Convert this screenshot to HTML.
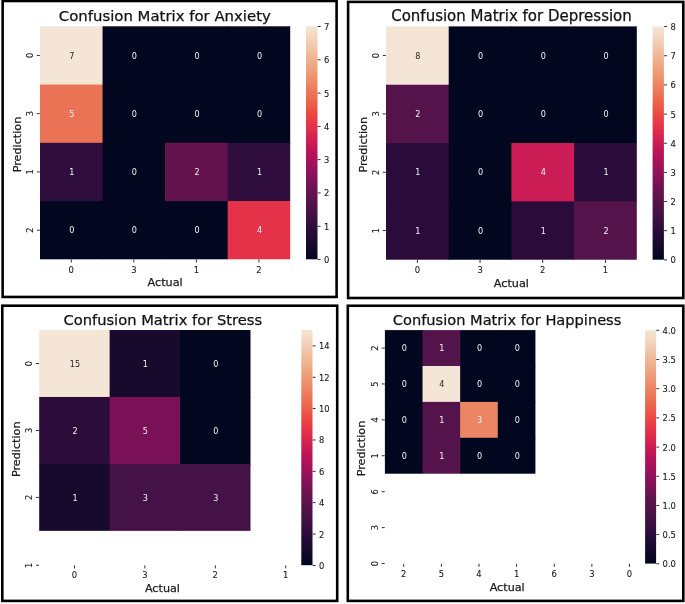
<!DOCTYPE html>
<html><head><meta charset="utf-8"><title>Confusion Matrices</title>
<style>html,body{margin:0;padding:0;background:#fff}svg{display:block;filter:blur(0.4px);font-family:"DejaVu Sans","Liberation Sans",sans-serif}</style>
</head><body>
<svg width="685" height="604" viewBox="0 0 685 604">
<rect x="0" y="0" width="685" height="604" fill="#ffffff"/>
<rect x="2.65" y="1.00" width="333.95" height="295.95" fill="#fff" stroke="#000" stroke-width="2.6"/>
<rect x="40.00" y="26.30" width="63.25" height="58.95" fill="#f5e5d6" />
<rect x="102.55" y="26.30" width="63.25" height="58.95" fill="#02061f" />
<rect x="165.10" y="26.30" width="63.25" height="58.95" fill="#02061f" />
<rect x="227.65" y="26.30" width="62.55" height="58.95" fill="#02061f" />
<rect x="40.00" y="84.55" width="63.25" height="58.95" fill="#ea7355" />
<rect x="102.55" y="84.55" width="63.25" height="58.95" fill="#02061f" />
<rect x="165.10" y="84.55" width="63.25" height="58.95" fill="#02061f" />
<rect x="227.65" y="84.55" width="62.55" height="58.95" fill="#02061f" />
<rect x="40.00" y="142.80" width="63.25" height="58.95" fill="#2f0d3d" />
<rect x="102.55" y="142.80" width="63.25" height="58.95" fill="#02061f" />
<rect x="165.10" y="142.80" width="63.25" height="58.95" fill="#64134f" />
<rect x="227.65" y="142.80" width="62.55" height="58.95" fill="#2f0d3d" />
<rect x="40.00" y="201.05" width="63.25" height="58.25" fill="#02061f" />
<rect x="102.55" y="201.05" width="63.25" height="58.25" fill="#02061f" />
<rect x="165.10" y="201.05" width="63.25" height="58.25" fill="#02061f" />
<rect x="227.65" y="201.05" width="62.55" height="58.25" fill="#e43248" />
<text x="71.88" y="58.68" font-size="8.1" fill="#262626" stroke="#262626" stroke-width="0" text-anchor="middle">7</text>
<text x="134.42" y="58.68" font-size="8.1" fill="#f4f4f4" stroke="#f4f4f4" stroke-width="0" text-anchor="middle">0</text>
<text x="196.97" y="58.68" font-size="8.1" fill="#f4f4f4" stroke="#f4f4f4" stroke-width="0" text-anchor="middle">0</text>
<text x="259.52" y="58.68" font-size="8.1" fill="#f4f4f4" stroke="#f4f4f4" stroke-width="0" text-anchor="middle">0</text>
<text x="71.88" y="116.93" font-size="8.1" fill="#f4f4f4" stroke="#f4f4f4" stroke-width="0" text-anchor="middle">5</text>
<text x="134.42" y="116.93" font-size="8.1" fill="#f4f4f4" stroke="#f4f4f4" stroke-width="0" text-anchor="middle">0</text>
<text x="196.97" y="116.93" font-size="8.1" fill="#f4f4f4" stroke="#f4f4f4" stroke-width="0" text-anchor="middle">0</text>
<text x="259.52" y="116.93" font-size="8.1" fill="#f4f4f4" stroke="#f4f4f4" stroke-width="0" text-anchor="middle">0</text>
<text x="71.88" y="175.18" font-size="8.1" fill="#f4f4f4" stroke="#f4f4f4" stroke-width="0" text-anchor="middle">1</text>
<text x="134.42" y="175.18" font-size="8.1" fill="#f4f4f4" stroke="#f4f4f4" stroke-width="0" text-anchor="middle">0</text>
<text x="196.97" y="175.18" font-size="8.1" fill="#f4f4f4" stroke="#f4f4f4" stroke-width="0" text-anchor="middle">2</text>
<text x="259.52" y="175.18" font-size="8.1" fill="#f4f4f4" stroke="#f4f4f4" stroke-width="0" text-anchor="middle">1</text>
<text x="71.88" y="233.43" font-size="8.1" fill="#f4f4f4" stroke="#f4f4f4" stroke-width="0" text-anchor="middle">0</text>
<text x="134.42" y="233.43" font-size="8.1" fill="#f4f4f4" stroke="#f4f4f4" stroke-width="0" text-anchor="middle">0</text>
<text x="196.97" y="233.43" font-size="8.1" fill="#f4f4f4" stroke="#f4f4f4" stroke-width="0" text-anchor="middle">0</text>
<text x="259.52" y="233.43" font-size="8.1" fill="#f4f4f4" stroke="#f4f4f4" stroke-width="0" text-anchor="middle">4</text>
<text x="164.80" y="21.00" font-size="14.9" fill="#111" stroke="#111" stroke-width="0.25" text-anchor="middle">Confusion Matrix for Anxiety</text>
<rect x="70.83" y="259.50" width="0.90" height="3.00" fill="#1a1a1a" />
<text x="71.28" y="272.57" font-size="8.4" fill="#1a1a1a" stroke="#1a1a1a" stroke-width="0.1" text-anchor="middle">0</text>
<rect x="133.38" y="259.50" width="0.90" height="3.00" fill="#1a1a1a" />
<text x="133.82" y="272.57" font-size="8.4" fill="#1a1a1a" stroke="#1a1a1a" stroke-width="0.1" text-anchor="middle">3</text>
<rect x="195.93" y="259.50" width="0.90" height="3.00" fill="#1a1a1a" />
<text x="196.38" y="272.57" font-size="8.4" fill="#1a1a1a" stroke="#1a1a1a" stroke-width="0.1" text-anchor="middle">1</text>
<rect x="258.47" y="259.50" width="0.90" height="3.00" fill="#1a1a1a" />
<text x="258.92" y="272.57" font-size="8.4" fill="#1a1a1a" stroke="#1a1a1a" stroke-width="0.1" text-anchor="middle">2</text>
<rect x="36.80" y="54.97" width="3.00" height="0.90" fill="#1a1a1a" />
<text x="32.67" y="55.42" font-size="8.4" fill="#1a1a1a" stroke="#1a1a1a" stroke-width="0.1" text-anchor="middle" transform="rotate(-90 32.67 55.42)">0</text>
<rect x="36.80" y="113.22" width="3.00" height="0.90" fill="#1a1a1a" />
<text x="32.67" y="113.67" font-size="8.4" fill="#1a1a1a" stroke="#1a1a1a" stroke-width="0.1" text-anchor="middle" transform="rotate(-90 32.67 113.67)">3</text>
<rect x="36.80" y="171.48" width="3.00" height="0.90" fill="#1a1a1a" />
<text x="32.67" y="171.93" font-size="8.4" fill="#1a1a1a" stroke="#1a1a1a" stroke-width="0.1" text-anchor="middle" transform="rotate(-90 32.67 171.93)">1</text>
<rect x="36.80" y="229.73" width="3.00" height="0.90" fill="#1a1a1a" />
<text x="32.67" y="230.18" font-size="8.4" fill="#1a1a1a" stroke="#1a1a1a" stroke-width="0.1" text-anchor="middle" transform="rotate(-90 32.67 230.18)">2</text>
<text x="165.10" y="286.40" font-size="11.2" fill="#1a1a1a" stroke="#1a1a1a" stroke-width="0.25" text-anchor="middle">Actual</text>
<text x="20.50" y="144.50" font-size="11.2" fill="#1a1a1a" stroke="#1a1a1a" stroke-width="0.25" text-anchor="middle" transform="rotate(-90 20.50 144.50)">Prediction</text>
<linearGradient id="gAnxiety" x1="0" y1="0" x2="0" y2="1"><stop offset="0.0000" stop-color="#f5e5d6"/><stop offset="0.0312" stop-color="#f3dbc8"/><stop offset="0.0625" stop-color="#f2d0b8"/><stop offset="0.0938" stop-color="#f0c4a7"/><stop offset="0.1250" stop-color="#efb897"/><stop offset="0.1562" stop-color="#eeac89"/><stop offset="0.1875" stop-color="#ee9f7b"/><stop offset="0.2188" stop-color="#ed926f"/><stop offset="0.2500" stop-color="#ec8564"/><stop offset="0.2812" stop-color="#eb7758"/><stop offset="0.3125" stop-color="#ec694e"/><stop offset="0.3438" stop-color="#ec5a47"/><stop offset="0.3750" stop-color="#eb4a43"/><stop offset="0.4062" stop-color="#e83c45"/><stop offset="0.4375" stop-color="#e22f4a"/><stop offset="0.4688" stop-color="#d7244f"/><stop offset="0.5000" stop-color="#cb1c55"/><stop offset="0.5312" stop-color="#bd1558"/><stop offset="0.5625" stop-color="#ae125a"/><stop offset="0.5938" stop-color="#9f125b"/><stop offset="0.6250" stop-color="#8f125a"/><stop offset="0.6562" stop-color="#801158"/><stop offset="0.6875" stop-color="#711254"/><stop offset="0.7188" stop-color="#62134f"/><stop offset="0.7500" stop-color="#55134b"/><stop offset="0.7812" stop-color="#4b1248"/><stop offset="0.8125" stop-color="#401144"/><stop offset="0.8438" stop-color="#350f3f"/><stop offset="0.8750" stop-color="#2a0b3a"/><stop offset="0.9062" stop-color="#1f0b33"/><stop offset="0.9375" stop-color="#160a2c"/><stop offset="0.9688" stop-color="#0b0825"/><stop offset="1.0000" stop-color="#02061f"/></linearGradient>
<rect x="306.00" y="26.30" width="11.50" height="233.00" fill="url(#gAnxiety)" />
<rect x="317.70" y="259.05" width="2.90" height="0.90" fill="#1a1a1a" />
<text x="324.00" y="262.97" font-size="8.4" fill="#1a1a1a" stroke="#1a1a1a" stroke-width="0.1" text-anchor="start">0</text>
<rect x="317.70" y="225.76" width="2.90" height="0.90" fill="#1a1a1a" />
<text x="324.00" y="229.68" font-size="8.4" fill="#1a1a1a" stroke="#1a1a1a" stroke-width="0.1" text-anchor="start">1</text>
<rect x="317.70" y="192.48" width="2.90" height="0.90" fill="#1a1a1a" />
<text x="324.00" y="196.39" font-size="8.4" fill="#1a1a1a" stroke="#1a1a1a" stroke-width="0.1" text-anchor="start">2</text>
<rect x="317.70" y="159.19" width="2.90" height="0.90" fill="#1a1a1a" />
<text x="324.00" y="163.11" font-size="8.4" fill="#1a1a1a" stroke="#1a1a1a" stroke-width="0.1" text-anchor="start">3</text>
<rect x="317.70" y="125.91" width="2.90" height="0.90" fill="#1a1a1a" />
<text x="324.00" y="129.82" font-size="8.4" fill="#1a1a1a" stroke="#1a1a1a" stroke-width="0.1" text-anchor="start">4</text>
<rect x="317.70" y="92.62" width="2.90" height="0.90" fill="#1a1a1a" />
<text x="324.00" y="96.54" font-size="8.4" fill="#1a1a1a" stroke="#1a1a1a" stroke-width="0.1" text-anchor="start">5</text>
<rect x="317.70" y="59.34" width="2.90" height="0.90" fill="#1a1a1a" />
<text x="324.00" y="63.25" font-size="8.4" fill="#1a1a1a" stroke="#1a1a1a" stroke-width="0.1" text-anchor="start">6</text>
<rect x="317.70" y="26.05" width="2.90" height="0.90" fill="#1a1a1a" />
<text x="324.00" y="29.97" font-size="8.4" fill="#1a1a1a" stroke="#1a1a1a" stroke-width="0.1" text-anchor="start">7</text>
<rect x="348.10" y="1.90" width="335.20" height="296.10" fill="#fff" stroke="#000" stroke-width="2.6"/>
<rect x="386.00" y="26.40" width="63.40" height="59.03" fill="#f5e5d6" />
<rect x="448.70" y="26.40" width="63.40" height="59.03" fill="#02061f" />
<rect x="511.40" y="26.40" width="63.40" height="59.03" fill="#02061f" />
<rect x="574.10" y="26.40" width="62.70" height="59.03" fill="#02061f" />
<rect x="386.00" y="84.73" width="63.40" height="59.03" fill="#55134b" />
<rect x="448.70" y="84.73" width="63.40" height="59.03" fill="#02061f" />
<rect x="511.40" y="84.73" width="63.40" height="59.03" fill="#02061f" />
<rect x="574.10" y="84.73" width="62.70" height="59.03" fill="#02061f" />
<rect x="386.00" y="143.06" width="63.40" height="59.03" fill="#2a0b3a" />
<rect x="448.70" y="143.06" width="63.40" height="59.03" fill="#02061f" />
<rect x="511.40" y="143.06" width="63.40" height="59.03" fill="#cb1c55" />
<rect x="574.10" y="143.06" width="62.70" height="59.03" fill="#2a0b3a" />
<rect x="386.00" y="201.39" width="63.40" height="58.33" fill="#2a0b3a" />
<rect x="448.70" y="201.39" width="63.40" height="58.33" fill="#02061f" />
<rect x="511.40" y="201.39" width="63.40" height="58.33" fill="#2a0b3a" />
<rect x="574.10" y="201.39" width="62.70" height="58.33" fill="#55134b" />
<text x="417.95" y="58.82" font-size="8.1" fill="#262626" stroke="#262626" stroke-width="0" text-anchor="middle">8</text>
<text x="480.65" y="58.82" font-size="8.1" fill="#f4f4f4" stroke="#f4f4f4" stroke-width="0" text-anchor="middle">0</text>
<text x="543.35" y="58.82" font-size="8.1" fill="#f4f4f4" stroke="#f4f4f4" stroke-width="0" text-anchor="middle">0</text>
<text x="606.05" y="58.82" font-size="8.1" fill="#f4f4f4" stroke="#f4f4f4" stroke-width="0" text-anchor="middle">0</text>
<text x="417.95" y="117.15" font-size="8.1" fill="#f4f4f4" stroke="#f4f4f4" stroke-width="0" text-anchor="middle">2</text>
<text x="480.65" y="117.15" font-size="8.1" fill="#f4f4f4" stroke="#f4f4f4" stroke-width="0" text-anchor="middle">0</text>
<text x="543.35" y="117.15" font-size="8.1" fill="#f4f4f4" stroke="#f4f4f4" stroke-width="0" text-anchor="middle">0</text>
<text x="606.05" y="117.15" font-size="8.1" fill="#f4f4f4" stroke="#f4f4f4" stroke-width="0" text-anchor="middle">0</text>
<text x="417.95" y="175.48" font-size="8.1" fill="#f4f4f4" stroke="#f4f4f4" stroke-width="0" text-anchor="middle">1</text>
<text x="480.65" y="175.48" font-size="8.1" fill="#f4f4f4" stroke="#f4f4f4" stroke-width="0" text-anchor="middle">0</text>
<text x="543.35" y="175.48" font-size="8.1" fill="#f4f4f4" stroke="#f4f4f4" stroke-width="0" text-anchor="middle">4</text>
<text x="606.05" y="175.48" font-size="8.1" fill="#f4f4f4" stroke="#f4f4f4" stroke-width="0" text-anchor="middle">1</text>
<text x="417.95" y="233.81" font-size="8.1" fill="#f4f4f4" stroke="#f4f4f4" stroke-width="0" text-anchor="middle">1</text>
<text x="480.65" y="233.81" font-size="8.1" fill="#f4f4f4" stroke="#f4f4f4" stroke-width="0" text-anchor="middle">0</text>
<text x="543.35" y="233.81" font-size="8.1" fill="#f4f4f4" stroke="#f4f4f4" stroke-width="0" text-anchor="middle">1</text>
<text x="606.05" y="233.81" font-size="8.1" fill="#f4f4f4" stroke="#f4f4f4" stroke-width="0" text-anchor="middle">2</text>
<text x="511.50" y="21.00" font-size="15.0" fill="#111" stroke="#111" stroke-width="0.25" text-anchor="middle">Confusion Matrix for Depression</text>
<rect x="416.90" y="259.90" width="0.90" height="3.00" fill="#1a1a1a" />
<text x="417.35" y="272.97" font-size="8.4" fill="#1a1a1a" stroke="#1a1a1a" stroke-width="0.1" text-anchor="middle">0</text>
<rect x="479.60" y="259.90" width="0.90" height="3.00" fill="#1a1a1a" />
<text x="480.05" y="272.97" font-size="8.4" fill="#1a1a1a" stroke="#1a1a1a" stroke-width="0.1" text-anchor="middle">3</text>
<rect x="542.30" y="259.90" width="0.90" height="3.00" fill="#1a1a1a" />
<text x="542.75" y="272.97" font-size="8.4" fill="#1a1a1a" stroke="#1a1a1a" stroke-width="0.1" text-anchor="middle">2</text>
<rect x="605.00" y="259.90" width="0.90" height="3.00" fill="#1a1a1a" />
<text x="605.45" y="272.97" font-size="8.4" fill="#1a1a1a" stroke="#1a1a1a" stroke-width="0.1" text-anchor="middle">1</text>
<rect x="382.80" y="55.11" width="3.00" height="0.90" fill="#1a1a1a" />
<text x="378.67" y="55.56" font-size="8.4" fill="#1a1a1a" stroke="#1a1a1a" stroke-width="0.1" text-anchor="middle" transform="rotate(-90 378.67 55.56)">0</text>
<rect x="382.80" y="113.45" width="3.00" height="0.90" fill="#1a1a1a" />
<text x="378.67" y="113.90" font-size="8.4" fill="#1a1a1a" stroke="#1a1a1a" stroke-width="0.1" text-anchor="middle" transform="rotate(-90 378.67 113.90)">3</text>
<rect x="382.80" y="171.78" width="3.00" height="0.90" fill="#1a1a1a" />
<text x="378.67" y="172.22" font-size="8.4" fill="#1a1a1a" stroke="#1a1a1a" stroke-width="0.1" text-anchor="middle" transform="rotate(-90 378.67 172.22)">2</text>
<rect x="382.80" y="230.11" width="3.00" height="0.90" fill="#1a1a1a" />
<text x="378.67" y="230.56" font-size="8.4" fill="#1a1a1a" stroke="#1a1a1a" stroke-width="0.1" text-anchor="middle" transform="rotate(-90 378.67 230.56)">1</text>
<text x="511.40" y="286.80" font-size="11.2" fill="#1a1a1a" stroke="#1a1a1a" stroke-width="0.25" text-anchor="middle">Actual</text>
<text x="366.50" y="144.75" font-size="11.2" fill="#1a1a1a" stroke="#1a1a1a" stroke-width="0.25" text-anchor="middle" transform="rotate(-90 366.50 144.75)">Prediction</text>
<linearGradient id="gDepression" x1="0" y1="0" x2="0" y2="1"><stop offset="0.0000" stop-color="#f5e5d6"/><stop offset="0.0312" stop-color="#f3dbc8"/><stop offset="0.0625" stop-color="#f2d0b8"/><stop offset="0.0938" stop-color="#f0c4a7"/><stop offset="0.1250" stop-color="#efb897"/><stop offset="0.1562" stop-color="#eeac89"/><stop offset="0.1875" stop-color="#ee9f7b"/><stop offset="0.2188" stop-color="#ed926f"/><stop offset="0.2500" stop-color="#ec8564"/><stop offset="0.2812" stop-color="#eb7758"/><stop offset="0.3125" stop-color="#ec694e"/><stop offset="0.3438" stop-color="#ec5a47"/><stop offset="0.3750" stop-color="#eb4a43"/><stop offset="0.4062" stop-color="#e83c45"/><stop offset="0.4375" stop-color="#e22f4a"/><stop offset="0.4688" stop-color="#d7244f"/><stop offset="0.5000" stop-color="#cb1c55"/><stop offset="0.5312" stop-color="#bd1558"/><stop offset="0.5625" stop-color="#ae125a"/><stop offset="0.5938" stop-color="#9f125b"/><stop offset="0.6250" stop-color="#8f125a"/><stop offset="0.6562" stop-color="#801158"/><stop offset="0.6875" stop-color="#711254"/><stop offset="0.7188" stop-color="#62134f"/><stop offset="0.7500" stop-color="#55134b"/><stop offset="0.7812" stop-color="#4b1248"/><stop offset="0.8125" stop-color="#401144"/><stop offset="0.8438" stop-color="#350f3f"/><stop offset="0.8750" stop-color="#2a0b3a"/><stop offset="0.9062" stop-color="#1f0b33"/><stop offset="0.9375" stop-color="#160a2c"/><stop offset="0.9688" stop-color="#0b0825"/><stop offset="1.0000" stop-color="#02061f"/></linearGradient>
<rect x="652.60" y="26.40" width="11.30" height="233.30" fill="url(#gDepression)" />
<rect x="664.10" y="259.45" width="2.90" height="0.90" fill="#1a1a1a" />
<text x="670.40" y="263.37" font-size="8.4" fill="#1a1a1a" stroke="#1a1a1a" stroke-width="0.1" text-anchor="start">0</text>
<rect x="664.10" y="230.29" width="2.90" height="0.90" fill="#1a1a1a" />
<text x="670.40" y="234.20" font-size="8.4" fill="#1a1a1a" stroke="#1a1a1a" stroke-width="0.1" text-anchor="start">1</text>
<rect x="664.10" y="201.12" width="2.90" height="0.90" fill="#1a1a1a" />
<text x="670.40" y="205.04" font-size="8.4" fill="#1a1a1a" stroke="#1a1a1a" stroke-width="0.1" text-anchor="start">2</text>
<rect x="664.10" y="171.96" width="2.90" height="0.90" fill="#1a1a1a" />
<text x="670.40" y="175.88" font-size="8.4" fill="#1a1a1a" stroke="#1a1a1a" stroke-width="0.1" text-anchor="start">3</text>
<rect x="664.10" y="142.80" width="2.90" height="0.90" fill="#1a1a1a" />
<text x="670.40" y="146.72" font-size="8.4" fill="#1a1a1a" stroke="#1a1a1a" stroke-width="0.1" text-anchor="start">4</text>
<rect x="664.10" y="113.64" width="2.90" height="0.90" fill="#1a1a1a" />
<text x="670.40" y="117.55" font-size="8.4" fill="#1a1a1a" stroke="#1a1a1a" stroke-width="0.1" text-anchor="start">5</text>
<rect x="664.10" y="84.47" width="2.90" height="0.90" fill="#1a1a1a" />
<text x="670.40" y="88.39" font-size="8.4" fill="#1a1a1a" stroke="#1a1a1a" stroke-width="0.1" text-anchor="start">6</text>
<rect x="664.10" y="55.31" width="2.90" height="0.90" fill="#1a1a1a" />
<text x="670.40" y="59.23" font-size="8.4" fill="#1a1a1a" stroke="#1a1a1a" stroke-width="0.1" text-anchor="start">7</text>
<rect x="664.10" y="26.15" width="2.90" height="0.90" fill="#1a1a1a" />
<text x="670.40" y="30.07" font-size="8.4" fill="#1a1a1a" stroke="#1a1a1a" stroke-width="0.1" text-anchor="start">8</text>
<rect x="2.30" y="305.70" width="334.90" height="295.20" fill="#fff" stroke="#000" stroke-width="2.6"/>
<rect x="39.20" y="330.00" width="71.13" height="67.65" fill="#f5e5d6" />
<rect x="109.63" y="330.00" width="71.13" height="67.65" fill="#170a2c" />
<rect x="180.06" y="330.00" width="70.43" height="67.65" fill="#02061f" />
<rect x="39.20" y="396.95" width="71.13" height="67.65" fill="#2c0c3b" />
<rect x="109.63" y="396.95" width="71.13" height="67.65" fill="#7a1156" />
<rect x="180.06" y="396.95" width="70.43" height="67.65" fill="#02061f" />
<rect x="39.20" y="463.90" width="71.13" height="66.95" fill="#170a2c" />
<rect x="109.63" y="463.90" width="71.13" height="66.95" fill="#441246" />
<rect x="180.06" y="463.90" width="70.43" height="66.95" fill="#441246" />
<text x="75.02" y="366.73" font-size="8.1" fill="#262626" stroke="#262626" stroke-width="0" text-anchor="middle">15</text>
<text x="145.45" y="366.73" font-size="8.1" fill="#f4f4f4" stroke="#f4f4f4" stroke-width="0" text-anchor="middle">1</text>
<text x="215.88" y="366.73" font-size="8.1" fill="#f4f4f4" stroke="#f4f4f4" stroke-width="0" text-anchor="middle">0</text>
<text x="75.02" y="433.68" font-size="8.1" fill="#f4f4f4" stroke="#f4f4f4" stroke-width="0" text-anchor="middle">2</text>
<text x="145.45" y="433.68" font-size="8.1" fill="#f4f4f4" stroke="#f4f4f4" stroke-width="0" text-anchor="middle">5</text>
<text x="215.88" y="433.68" font-size="8.1" fill="#f4f4f4" stroke="#f4f4f4" stroke-width="0" text-anchor="middle">0</text>
<text x="75.02" y="500.63" font-size="8.1" fill="#f4f4f4" stroke="#f4f4f4" stroke-width="0" text-anchor="middle">1</text>
<text x="145.45" y="500.63" font-size="8.1" fill="#f4f4f4" stroke="#f4f4f4" stroke-width="0" text-anchor="middle">3</text>
<text x="215.88" y="500.63" font-size="8.1" fill="#f4f4f4" stroke="#f4f4f4" stroke-width="0" text-anchor="middle">3</text>
<text x="162.75" y="324.50" font-size="14.7" fill="#111" stroke="#111" stroke-width="0.25" text-anchor="middle">Confusion Matrix for Stress</text>
<rect x="73.97" y="565.40" width="0.90" height="3.00" fill="#1a1a1a" />
<text x="74.42" y="578.47" font-size="8.4" fill="#1a1a1a" stroke="#1a1a1a" stroke-width="0.1" text-anchor="middle">0</text>
<rect x="144.40" y="565.40" width="0.90" height="3.00" fill="#1a1a1a" />
<text x="144.85" y="578.47" font-size="8.4" fill="#1a1a1a" stroke="#1a1a1a" stroke-width="0.1" text-anchor="middle">3</text>
<rect x="214.83" y="565.40" width="0.90" height="3.00" fill="#1a1a1a" />
<text x="215.28" y="578.47" font-size="8.4" fill="#1a1a1a" stroke="#1a1a1a" stroke-width="0.1" text-anchor="middle">2</text>
<rect x="285.26" y="565.40" width="0.90" height="3.00" fill="#1a1a1a" />
<text x="285.71" y="578.47" font-size="8.4" fill="#1a1a1a" stroke="#1a1a1a" stroke-width="0.1" text-anchor="middle">1</text>
<rect x="36.00" y="363.03" width="3.00" height="0.90" fill="#1a1a1a" />
<text x="31.87" y="363.48" font-size="8.4" fill="#1a1a1a" stroke="#1a1a1a" stroke-width="0.1" text-anchor="middle" transform="rotate(-90 31.87 363.48)">0</text>
<rect x="36.00" y="429.98" width="3.00" height="0.90" fill="#1a1a1a" />
<text x="31.87" y="430.43" font-size="8.4" fill="#1a1a1a" stroke="#1a1a1a" stroke-width="0.1" text-anchor="middle" transform="rotate(-90 31.87 430.43)">3</text>
<rect x="36.00" y="496.93" width="3.00" height="0.90" fill="#1a1a1a" />
<text x="31.87" y="497.38" font-size="8.4" fill="#1a1a1a" stroke="#1a1a1a" stroke-width="0.1" text-anchor="middle" transform="rotate(-90 31.87 497.38)">2</text>
<rect x="36.00" y="564.75" width="3.00" height="0.90" fill="#1a1a1a" />
<text x="31.87" y="565.20" font-size="8.4" fill="#1a1a1a" stroke="#1a1a1a" stroke-width="0.1" text-anchor="middle" transform="rotate(-90 31.87 565.20)">1</text>
<text x="162.45" y="592.30" font-size="11.2" fill="#1a1a1a" stroke="#1a1a1a" stroke-width="0.25" text-anchor="middle">Actual</text>
<text x="19.70" y="449.30" font-size="11.2" fill="#1a1a1a" stroke="#1a1a1a" stroke-width="0.25" text-anchor="middle" transform="rotate(-90 19.70 449.30)">Prediction</text>
<linearGradient id="gStress" x1="0" y1="0" x2="0" y2="1"><stop offset="0.0000" stop-color="#f5e5d6"/><stop offset="0.0312" stop-color="#f3dbc8"/><stop offset="0.0625" stop-color="#f2d0b8"/><stop offset="0.0938" stop-color="#f0c4a7"/><stop offset="0.1250" stop-color="#efb897"/><stop offset="0.1562" stop-color="#eeac89"/><stop offset="0.1875" stop-color="#ee9f7b"/><stop offset="0.2188" stop-color="#ed926f"/><stop offset="0.2500" stop-color="#ec8564"/><stop offset="0.2812" stop-color="#eb7758"/><stop offset="0.3125" stop-color="#ec694e"/><stop offset="0.3438" stop-color="#ec5a47"/><stop offset="0.3750" stop-color="#eb4a43"/><stop offset="0.4062" stop-color="#e83c45"/><stop offset="0.4375" stop-color="#e22f4a"/><stop offset="0.4688" stop-color="#d7244f"/><stop offset="0.5000" stop-color="#cb1c55"/><stop offset="0.5312" stop-color="#bd1558"/><stop offset="0.5625" stop-color="#ae125a"/><stop offset="0.5938" stop-color="#9f125b"/><stop offset="0.6250" stop-color="#8f125a"/><stop offset="0.6562" stop-color="#801158"/><stop offset="0.6875" stop-color="#711254"/><stop offset="0.7188" stop-color="#62134f"/><stop offset="0.7500" stop-color="#55134b"/><stop offset="0.7812" stop-color="#4b1248"/><stop offset="0.8125" stop-color="#401144"/><stop offset="0.8438" stop-color="#350f3f"/><stop offset="0.8750" stop-color="#2a0b3a"/><stop offset="0.9062" stop-color="#1f0b33"/><stop offset="0.9375" stop-color="#160a2c"/><stop offset="0.9688" stop-color="#0b0825"/><stop offset="1.0000" stop-color="#02061f"/></linearGradient>
<rect x="301.30" y="330.00" width="11.20" height="235.20" fill="url(#gStress)" />
<rect x="312.70" y="564.95" width="2.90" height="0.90" fill="#1a1a1a" />
<text x="319.00" y="568.87" font-size="8.4" fill="#1a1a1a" stroke="#1a1a1a" stroke-width="0.1" text-anchor="start">0</text>
<rect x="312.70" y="533.59" width="2.90" height="0.90" fill="#1a1a1a" />
<text x="319.00" y="537.51" font-size="8.4" fill="#1a1a1a" stroke="#1a1a1a" stroke-width="0.1" text-anchor="start">2</text>
<rect x="312.70" y="502.23" width="2.90" height="0.90" fill="#1a1a1a" />
<text x="319.00" y="506.15" font-size="8.4" fill="#1a1a1a" stroke="#1a1a1a" stroke-width="0.1" text-anchor="start">4</text>
<rect x="312.70" y="470.87" width="2.90" height="0.90" fill="#1a1a1a" />
<text x="319.00" y="474.79" font-size="8.4" fill="#1a1a1a" stroke="#1a1a1a" stroke-width="0.1" text-anchor="start">6</text>
<rect x="312.70" y="439.51" width="2.90" height="0.90" fill="#1a1a1a" />
<text x="319.00" y="443.43" font-size="8.4" fill="#1a1a1a" stroke="#1a1a1a" stroke-width="0.1" text-anchor="start">8</text>
<rect x="312.70" y="408.15" width="2.90" height="0.90" fill="#1a1a1a" />
<text x="319.00" y="412.07" font-size="8.4" fill="#1a1a1a" stroke="#1a1a1a" stroke-width="0.1" text-anchor="start">10</text>
<rect x="312.70" y="376.79" width="2.90" height="0.90" fill="#1a1a1a" />
<text x="319.00" y="380.71" font-size="8.4" fill="#1a1a1a" stroke="#1a1a1a" stroke-width="0.1" text-anchor="start">12</text>
<rect x="312.70" y="345.43" width="2.90" height="0.90" fill="#1a1a1a" />
<text x="319.00" y="349.35" font-size="8.4" fill="#1a1a1a" stroke="#1a1a1a" stroke-width="0.1" text-anchor="start">14</text>
<rect x="347.80" y="305.75" width="335.50" height="295.15" fill="#fff" stroke="#000" stroke-width="2.6"/>
<rect x="384.90" y="330.10" width="38.33" height="36.60" fill="#02061f" />
<rect x="422.53" y="330.10" width="38.33" height="36.60" fill="#55134b" />
<rect x="460.16" y="330.10" width="38.33" height="36.60" fill="#02061f" />
<rect x="497.79" y="330.10" width="37.63" height="36.60" fill="#02061f" />
<rect x="384.90" y="366.00" width="38.33" height="36.60" fill="#02061f" />
<rect x="422.53" y="366.00" width="38.33" height="36.60" fill="#f5e5d6" />
<rect x="460.16" y="366.00" width="38.33" height="36.60" fill="#02061f" />
<rect x="497.79" y="366.00" width="37.63" height="36.60" fill="#02061f" />
<rect x="384.90" y="401.90" width="38.33" height="36.60" fill="#02061f" />
<rect x="422.53" y="401.90" width="38.33" height="36.60" fill="#55134b" />
<rect x="460.16" y="401.90" width="38.33" height="36.60" fill="#ec8564" />
<rect x="497.79" y="401.90" width="37.63" height="36.60" fill="#02061f" />
<rect x="384.90" y="437.80" width="38.33" height="35.90" fill="#02061f" />
<rect x="422.53" y="437.80" width="38.33" height="35.90" fill="#55134b" />
<rect x="460.16" y="437.80" width="38.33" height="35.90" fill="#02061f" />
<rect x="497.79" y="437.80" width="37.63" height="35.90" fill="#02061f" />
<text x="404.31" y="351.31" font-size="8.1" fill="#f4f4f4" stroke="#f4f4f4" stroke-width="0" text-anchor="middle">0</text>
<text x="441.94" y="351.31" font-size="8.1" fill="#f4f4f4" stroke="#f4f4f4" stroke-width="0" text-anchor="middle">1</text>
<text x="479.57" y="351.31" font-size="8.1" fill="#f4f4f4" stroke="#f4f4f4" stroke-width="0" text-anchor="middle">0</text>
<text x="517.21" y="351.31" font-size="8.1" fill="#f4f4f4" stroke="#f4f4f4" stroke-width="0" text-anchor="middle">0</text>
<text x="404.31" y="387.21" font-size="8.1" fill="#f4f4f4" stroke="#f4f4f4" stroke-width="0" text-anchor="middle">0</text>
<text x="441.94" y="387.21" font-size="8.1" fill="#262626" stroke="#262626" stroke-width="0" text-anchor="middle">4</text>
<text x="479.57" y="387.21" font-size="8.1" fill="#f4f4f4" stroke="#f4f4f4" stroke-width="0" text-anchor="middle">0</text>
<text x="517.21" y="387.21" font-size="8.1" fill="#f4f4f4" stroke="#f4f4f4" stroke-width="0" text-anchor="middle">0</text>
<text x="404.31" y="423.11" font-size="8.1" fill="#f4f4f4" stroke="#f4f4f4" stroke-width="0" text-anchor="middle">0</text>
<text x="441.94" y="423.11" font-size="8.1" fill="#f4f4f4" stroke="#f4f4f4" stroke-width="0" text-anchor="middle">1</text>
<text x="479.57" y="423.11" font-size="8.1" fill="#f4f4f4" stroke="#f4f4f4" stroke-width="0" text-anchor="middle">3</text>
<text x="517.21" y="423.11" font-size="8.1" fill="#f4f4f4" stroke="#f4f4f4" stroke-width="0" text-anchor="middle">0</text>
<text x="404.31" y="459.01" font-size="8.1" fill="#f4f4f4" stroke="#f4f4f4" stroke-width="0" text-anchor="middle">0</text>
<text x="441.94" y="459.01" font-size="8.1" fill="#f4f4f4" stroke="#f4f4f4" stroke-width="0" text-anchor="middle">1</text>
<text x="479.57" y="459.01" font-size="8.1" fill="#f4f4f4" stroke="#f4f4f4" stroke-width="0" text-anchor="middle">0</text>
<text x="517.21" y="459.01" font-size="8.1" fill="#f4f4f4" stroke="#f4f4f4" stroke-width="0" text-anchor="middle">0</text>
<text x="507.10" y="324.50" font-size="14.6" fill="#111" stroke="#111" stroke-width="0.25" text-anchor="middle">Confusion Matrix for Happiness</text>
<rect x="403.26" y="563.80" width="0.90" height="3.00" fill="#1a1a1a" />
<text x="403.71" y="576.87" font-size="8.4" fill="#1a1a1a" stroke="#1a1a1a" stroke-width="0.1" text-anchor="middle">2</text>
<rect x="440.89" y="563.80" width="0.90" height="3.00" fill="#1a1a1a" />
<text x="441.34" y="576.87" font-size="8.4" fill="#1a1a1a" stroke="#1a1a1a" stroke-width="0.1" text-anchor="middle">5</text>
<rect x="478.52" y="563.80" width="0.90" height="3.00" fill="#1a1a1a" />
<text x="478.97" y="576.87" font-size="8.4" fill="#1a1a1a" stroke="#1a1a1a" stroke-width="0.1" text-anchor="middle">4</text>
<rect x="516.15" y="563.80" width="0.90" height="3.00" fill="#1a1a1a" />
<text x="516.61" y="576.87" font-size="8.4" fill="#1a1a1a" stroke="#1a1a1a" stroke-width="0.1" text-anchor="middle">1</text>
<rect x="553.78" y="563.80" width="0.90" height="3.00" fill="#1a1a1a" />
<text x="554.24" y="576.87" font-size="8.4" fill="#1a1a1a" stroke="#1a1a1a" stroke-width="0.1" text-anchor="middle">6</text>
<rect x="591.41" y="563.80" width="0.90" height="3.00" fill="#1a1a1a" />
<text x="591.87" y="576.87" font-size="8.4" fill="#1a1a1a" stroke="#1a1a1a" stroke-width="0.1" text-anchor="middle">3</text>
<rect x="629.04" y="563.80" width="0.90" height="3.00" fill="#1a1a1a" />
<text x="629.50" y="576.87" font-size="8.4" fill="#1a1a1a" stroke="#1a1a1a" stroke-width="0.1" text-anchor="middle">0</text>
<rect x="381.70" y="347.60" width="3.00" height="0.90" fill="#1a1a1a" />
<text x="377.57" y="348.05" font-size="8.4" fill="#1a1a1a" stroke="#1a1a1a" stroke-width="0.1" text-anchor="middle" transform="rotate(-90 377.57 348.05)">2</text>
<rect x="381.70" y="383.50" width="3.00" height="0.90" fill="#1a1a1a" />
<text x="377.57" y="383.95" font-size="8.4" fill="#1a1a1a" stroke="#1a1a1a" stroke-width="0.1" text-anchor="middle" transform="rotate(-90 377.57 383.95)">5</text>
<rect x="381.70" y="419.40" width="3.00" height="0.90" fill="#1a1a1a" />
<text x="377.57" y="419.85" font-size="8.4" fill="#1a1a1a" stroke="#1a1a1a" stroke-width="0.1" text-anchor="middle" transform="rotate(-90 377.57 419.85)">4</text>
<rect x="381.70" y="455.30" width="3.00" height="0.90" fill="#1a1a1a" />
<text x="377.57" y="455.75" font-size="8.4" fill="#1a1a1a" stroke="#1a1a1a" stroke-width="0.1" text-anchor="middle" transform="rotate(-90 377.57 455.75)">1</text>
<rect x="381.70" y="491.25" width="3.00" height="0.90" fill="#1a1a1a" />
<text x="377.57" y="491.70" font-size="8.4" fill="#1a1a1a" stroke="#1a1a1a" stroke-width="0.1" text-anchor="middle" transform="rotate(-90 377.57 491.70)">6</text>
<rect x="381.70" y="527.20" width="3.00" height="0.90" fill="#1a1a1a" />
<text x="377.57" y="527.65" font-size="8.4" fill="#1a1a1a" stroke="#1a1a1a" stroke-width="0.1" text-anchor="middle" transform="rotate(-90 377.57 527.65)">3</text>
<rect x="381.70" y="563.15" width="3.00" height="0.90" fill="#1a1a1a" />
<text x="377.57" y="563.60" font-size="8.4" fill="#1a1a1a" stroke="#1a1a1a" stroke-width="0.1" text-anchor="middle" transform="rotate(-90 377.57 563.60)">0</text>
<text x="507.20" y="590.70" font-size="11.2" fill="#1a1a1a" stroke="#1a1a1a" stroke-width="0.25" text-anchor="middle">Actual</text>
<text x="365.40" y="448.55" font-size="11.2" fill="#1a1a1a" stroke="#1a1a1a" stroke-width="0.25" text-anchor="middle" transform="rotate(-90 365.40 448.55)">Prediction</text>
<linearGradient id="gHappiness" x1="0" y1="0" x2="0" y2="1"><stop offset="0.0000" stop-color="#f5e5d6"/><stop offset="0.0312" stop-color="#f3dbc8"/><stop offset="0.0625" stop-color="#f2d0b8"/><stop offset="0.0938" stop-color="#f0c4a7"/><stop offset="0.1250" stop-color="#efb897"/><stop offset="0.1562" stop-color="#eeac89"/><stop offset="0.1875" stop-color="#ee9f7b"/><stop offset="0.2188" stop-color="#ed926f"/><stop offset="0.2500" stop-color="#ec8564"/><stop offset="0.2812" stop-color="#eb7758"/><stop offset="0.3125" stop-color="#ec694e"/><stop offset="0.3438" stop-color="#ec5a47"/><stop offset="0.3750" stop-color="#eb4a43"/><stop offset="0.4062" stop-color="#e83c45"/><stop offset="0.4375" stop-color="#e22f4a"/><stop offset="0.4688" stop-color="#d7244f"/><stop offset="0.5000" stop-color="#cb1c55"/><stop offset="0.5312" stop-color="#bd1558"/><stop offset="0.5625" stop-color="#ae125a"/><stop offset="0.5938" stop-color="#9f125b"/><stop offset="0.6250" stop-color="#8f125a"/><stop offset="0.6562" stop-color="#801158"/><stop offset="0.6875" stop-color="#711254"/><stop offset="0.7188" stop-color="#62134f"/><stop offset="0.7500" stop-color="#55134b"/><stop offset="0.7812" stop-color="#4b1248"/><stop offset="0.8125" stop-color="#401144"/><stop offset="0.8438" stop-color="#350f3f"/><stop offset="0.8750" stop-color="#2a0b3a"/><stop offset="0.9062" stop-color="#1f0b33"/><stop offset="0.9375" stop-color="#160a2c"/><stop offset="0.9688" stop-color="#0b0825"/><stop offset="1.0000" stop-color="#02061f"/></linearGradient>
<rect x="645.10" y="330.10" width="11.00" height="233.50" fill="url(#gHappiness)" />
<rect x="656.30" y="563.35" width="2.90" height="0.90" fill="#1a1a1a" />
<text x="662.60" y="567.27" font-size="8.4" fill="#1a1a1a" stroke="#1a1a1a" stroke-width="0.1" text-anchor="start">0.0</text>
<rect x="656.30" y="534.16" width="2.90" height="0.90" fill="#1a1a1a" />
<text x="662.60" y="538.08" font-size="8.4" fill="#1a1a1a" stroke="#1a1a1a" stroke-width="0.1" text-anchor="start">0.5</text>
<rect x="656.30" y="504.98" width="2.90" height="0.90" fill="#1a1a1a" />
<text x="662.60" y="508.89" font-size="8.4" fill="#1a1a1a" stroke="#1a1a1a" stroke-width="0.1" text-anchor="start">1.0</text>
<rect x="656.30" y="475.79" width="2.90" height="0.90" fill="#1a1a1a" />
<text x="662.60" y="479.70" font-size="8.4" fill="#1a1a1a" stroke="#1a1a1a" stroke-width="0.1" text-anchor="start">1.5</text>
<rect x="656.30" y="446.60" width="2.90" height="0.90" fill="#1a1a1a" />
<text x="662.60" y="450.52" font-size="8.4" fill="#1a1a1a" stroke="#1a1a1a" stroke-width="0.1" text-anchor="start">2.0</text>
<rect x="656.30" y="417.41" width="2.90" height="0.90" fill="#1a1a1a" />
<text x="662.60" y="421.33" font-size="8.4" fill="#1a1a1a" stroke="#1a1a1a" stroke-width="0.1" text-anchor="start">2.5</text>
<rect x="656.30" y="388.23" width="2.90" height="0.90" fill="#1a1a1a" />
<text x="662.60" y="392.14" font-size="8.4" fill="#1a1a1a" stroke="#1a1a1a" stroke-width="0.1" text-anchor="start">3.0</text>
<rect x="656.30" y="359.04" width="2.90" height="0.90" fill="#1a1a1a" />
<text x="662.60" y="362.95" font-size="8.4" fill="#1a1a1a" stroke="#1a1a1a" stroke-width="0.1" text-anchor="start">3.5</text>
<rect x="656.30" y="329.85" width="2.90" height="0.90" fill="#1a1a1a" />
<text x="662.60" y="333.77" font-size="8.4" fill="#1a1a1a" stroke="#1a1a1a" stroke-width="0.1" text-anchor="start">4.0</text>
</svg>
</body></html>
